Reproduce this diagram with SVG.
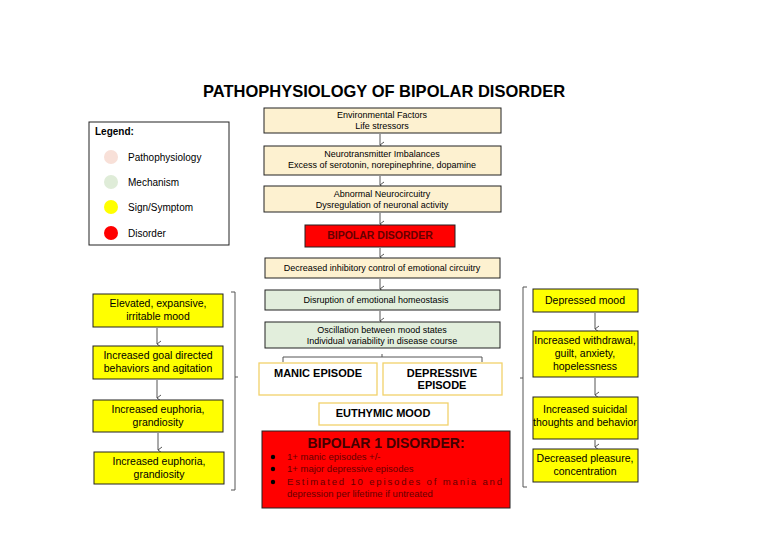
<svg xmlns="http://www.w3.org/2000/svg" width="768" height="543" viewBox="0 0 768 543">
<style>
text{font-family:"Liberation Sans",Arial,sans-serif;fill:#000}
.p{fill:#fdf1d0;stroke:#222;stroke-width:1}
.m{fill:#e2eedc;stroke:#222;stroke-width:1}
.s{fill:#ffff00;stroke:#222;stroke-width:1}
.d{fill:#ff0000;stroke:#222;stroke-width:1}
.e{fill:#fff;stroke:#f2d26a;stroke-width:1.3}
.t{font-size:9px;text-anchor:middle}
.y{font-size:10.5px;text-anchor:middle}
.b{font-weight:bold;text-anchor:middle;font-size:11px}
.c{fill:none;stroke:#555;stroke-width:1}
</style>
<defs><marker id="a" markerWidth="8" markerHeight="8" refX="4" refY="7" orient="auto" markerUnits="userSpaceOnUse"><path d="M1,3 L4,7 L7,3" fill="none" stroke="#444" stroke-width="0.9"/></marker></defs>
<rect width="768" height="543" fill="#fff"/>
<text x="384" y="97" style="font-size:16.5px;font-weight:bold;text-anchor:middle">PATHOPHYSIOLOGY OF BIPOLAR DISORDER</text>
<g id="legend">
<rect x="89" y="122" width="140" height="123" fill="#fff" stroke="#222"/>
<text x="95" y="135" style="font-size:10px;font-weight:bold">Legend:</text>
<circle cx="111" cy="157" r="7" fill="#f8e0d8"/><text x="128" y="161" style="font-size:10px">Pathophysiology</text>
<circle cx="111" cy="182" r="7" fill="#dfecd8"/><text x="128" y="186" style="font-size:10px">Mechanism</text>
<circle cx="111" cy="207" r="7" fill="#ffff00"/><text x="128" y="211" style="font-size:10px">Sign/Symptom</text>
<circle cx="111" cy="233" r="7" fill="#ff0000"/><text x="128" y="237" style="font-size:10px">Disorder</text>
</g>
<g id="connectors">
<path class="c" d="M380,134V145" marker-end="url(#a)"/>
<path class="c" d="M380,176V185" marker-end="url(#a)"/>
<path class="c" d="M380,213V224" marker-end="url(#a)"/>
<path class="c" d="M380,248V257" marker-end="url(#a)"/>
<path class="c" d="M380,279V289" marker-end="url(#a)"/>
<path class="c" d="M380,311V321" marker-end="url(#a)"/>
<path class="c" d="M486,292V304" marker-end="url(#a)"/>
<path class="c" d="M283,362V357H482V362M382,357V354"/>
<path class="c" d="M157,328V344" marker-end="url(#a)"/>
<path class="c" d="M157,380V398" marker-end="url(#a)"/>
<path class="c" d="M158,433V450" marker-end="url(#a)"/>
<path class="c" d="M595,313V329" marker-end="url(#a)"/>
<path class="c" d="M595,378V395" marker-end="url(#a)"/>
<path class="c" d="M595,440V447" marker-end="url(#a)"/>
<path class="c" d="M231,292H235V490H231M235,377H238" stroke="#888"/>
<path class="c" d="M527,287H523V487H527M523,378H520" stroke="#888"/>
</g>
<g id="env"><rect class="p" x="264" y="108" width="237" height="25"/><text class="t" x="382" y="118">Environmental Factors</text><text class="t" x="382" y="129">Life stressors</text></g>
<g id="neuro"><rect class="p" x="264" y="146" width="237" height="29"/><text class="t" x="382" y="157">Neurotransmitter Imbalances</text><text class="t" x="382" y="168">Excess of serotonin, norepinephrine, dopamine</text></g>
<g id="abn"><rect class="p" x="264" y="186" width="237" height="26"/><text class="t" x="382" y="197">Abnormal Neurocircuitry</text><text class="t" x="382" y="208">Dysregulation of neuronal activity</text></g>
<g id="bipolar"><rect class="d" x="305" y="225" width="150" height="22"/><text x="380" y="239" style="font-size:10.5px;font-weight:bold;text-anchor:middle;fill:#600">BIPOLAR DISORDER</text></g>
<g id="decr"><rect class="p" x="265" y="258" width="235" height="20"/><text class="t" x="382" y="271">Decreased inhibitory control of emotional circuitry</text></g>
<g id="disr"><rect class="m" x="265" y="290" width="235" height="20"/><text class="t" x="376" y="303">Disruption of emotional homeostasis</text></g>
<g id="osc"><rect class="m" x="265" y="322" width="235" height="26"/><text class="t" x="382" y="333">Oscillation between mood states</text><text class="t" x="382" y="344">Individual variability in disease course</text></g>
<g id="manic"><rect class="e" x="259" y="363" width="118" height="32"/><text class="b" x="318" y="377">MANIC EPISODE</text></g>
<g id="dep"><rect class="e" x="383" y="363" width="119" height="32"/><text class="b" x="442" y="377">DEPRESSIVE</text><text class="b" x="442" y="389">EPISODE</text></g>
<g id="euth"><rect class="e" x="319" y="403" width="129" height="22"/><text class="b" x="383" y="417">EUTHYMIC MOOD</text></g>
<g id="bp1"><rect class="d" x="262" y="431" width="248" height="77"/>
<text x="386" y="448" style="font-size:14px;font-weight:bold;text-anchor:middle;fill:#400">BIPOLAR 1 DISORDER:</text>
<g style="font-size:9.5px">
<circle cx="273" cy="457" r="2.2" fill="#000"/><text x="287" y="460" style="fill:#600;font-size:9.5px">1+ manic episodes +/-</text>
<circle cx="273" cy="469" r="2.2" fill="#000"/><text x="287" y="472" style="fill:#600;font-size:9.5px">1+ major depressive episodes</text>
<circle cx="273" cy="482" r="2.2" fill="#000"/><text x="287" y="485" style="fill:#600;font-size:9.5px" textLength="215">Estimated 10 episodes of mania and</text>
<text x="287" y="497" style="fill:#600;font-size:9.5px">depression per lifetime if untreated</text></g></g>
<g id="l1"><rect class="s" x="93" y="294" width="130" height="33"/><text class="y" x="158" y="307">Elevated, expansive,</text><text class="y" x="158" y="320">irritable mood</text></g>
<g id="l2"><rect class="s" x="93" y="346" width="130" height="33"/><text class="y" x="158" y="359">Increased goal directed</text><text class="y" x="158" y="372">behaviors and agitation</text></g>
<g id="l3"><rect class="s" x="93" y="400" width="130" height="32"/><text class="y" x="158" y="413">Increased euphoria,</text><text class="y" x="158" y="426">grandiosity</text></g>
<g id="l4"><rect class="s" x="94" y="452" width="130" height="32"/><text class="y" x="159" y="465">Increased euphoria,</text><text class="y" x="159" y="478">grandiosity</text></g>
<g id="r1"><rect class="s" x="533" y="289" width="105" height="23"/><text class="y" x="585" y="304">Depressed mood</text></g>
<g id="r2"><rect class="s" x="533" y="331" width="105" height="46"/><text class="y" x="585" y="344">Increased withdrawal,</text><text class="y" x="585" y="357">guilt, anxiety,</text><text class="y" x="585" y="370">hopelessness</text></g>
<g id="r3"><rect class="s" x="533" y="397" width="105" height="42"/><text class="y" x="585" y="413">Increased suicidal</text><text class="y" x="585" y="426">thoughts and behavior</text></g>
<g id="r4"><rect class="s" x="533" y="449" width="105" height="33"/><text class="y" x="585" y="462">Decreased pleasure,</text><text class="y" x="585" y="475">concentration</text></g>
</svg>
